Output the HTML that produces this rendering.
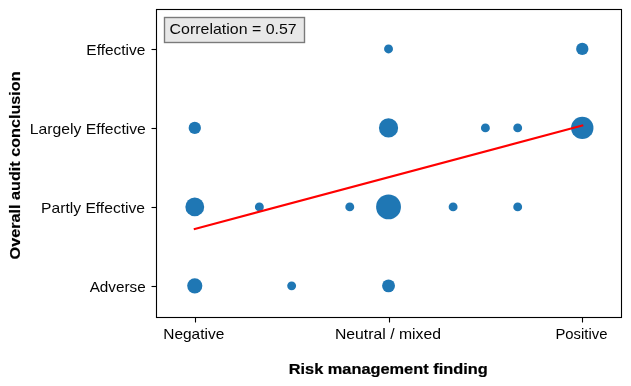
<!DOCTYPE html>
<html><head><meta charset="utf-8"><title>Risk management finding vs overall audit conclusion</title>
<style>
html,body{margin:0;padding:0;background:#ffffff;}
body{width:631px;height:386px;overflow:hidden;}
svg{display:block;position:absolute;left:0;top:0;will-change:transform;}
text{font-family:"Liberation Sans", sans-serif;}
</style></head>
<body>
<svg width="631" height="386" viewBox="0 0 631 386">
<rect x="0" y="0" width="631" height="386" fill="#ffffff"/>
<g fill="#1f77b4">
<circle cx="388.53" cy="48.93" r="4.45"/>
<circle cx="582.28" cy="48.93" r="6.17"/>
<circle cx="194.78" cy="127.91" r="6.17"/>
<circle cx="388.53" cy="127.91" r="9.62"/>
<circle cx="485.40" cy="127.91" r="4.45"/>
<circle cx="517.69" cy="127.91" r="4.45"/>
<circle cx="582.28" cy="127.91" r="11.18"/>
<circle cx="194.78" cy="206.88" r="9.43"/>
<circle cx="259.36" cy="206.88" r="4.45"/>
<circle cx="349.78" cy="206.88" r="4.45"/>
<circle cx="388.53" cy="206.88" r="12.43"/>
<circle cx="453.11" cy="206.88" r="4.45"/>
<circle cx="517.69" cy="206.88" r="4.45"/>
<circle cx="194.78" cy="285.85" r="7.58"/>
<circle cx="291.65" cy="285.85" r="4.45"/>
<circle cx="388.53" cy="285.85" r="6.47"/>
</g>
<line x1="194.78" y1="228.99" x2="582.28" y2="125.54" stroke="#ff0000" stroke-width="2.083" stroke-linecap="square"/>
<rect x="156.5" y="9.5" width="465" height="308" fill="none" stroke="#000000" stroke-width="1.111"/>
<g stroke="#000000" stroke-width="1.111">
<line x1="151.5" y1="49.5" x2="156.5" y2="49.5"/>
<line x1="151.5" y1="128.5" x2="156.5" y2="128.5"/>
<line x1="151.5" y1="207.5" x2="156.5" y2="207.5"/>
<line x1="151.5" y1="286.5" x2="156.5" y2="286.5"/>
<line x1="195.5" y1="317.5" x2="195.5" y2="322.5"/>
<line x1="389.5" y1="317.5" x2="389.5" y2="322.5"/>
<line x1="582.5" y1="317.5" x2="582.5" y2="322.5"/>
</g>
<rect x="164.50" y="17.50" width="140.00" height="25.00" fill="#e8e8e8" stroke="#7a7a7a" stroke-width="1.389"/>
<text x="193.75" y="338.73" font-size="14.60" text-anchor="middle" textLength="61.00" lengthAdjust="spacingAndGlyphs" fill="#000000">Negative</text>
<text x="387.94" y="338.77" font-size="14.60" text-anchor="middle" textLength="106.00" lengthAdjust="spacingAndGlyphs" fill="#000000">Neutral / mixed</text>
<text x="581.46" y="339.46" font-size="14.60" text-anchor="middle" textLength="52.00" lengthAdjust="spacingAndGlyphs" fill="#000000">Positive</text>
<text x="145.65" y="292.43" font-size="14.60" text-anchor="end" textLength="56.00" lengthAdjust="spacingAndGlyphs" fill="#030303">Adverse</text>
<text x="145.07" y="212.61" font-size="14.60" text-anchor="end" textLength="104.00" lengthAdjust="spacingAndGlyphs" fill="#080808">Partly Effective</text>
<text x="145.89" y="133.77" font-size="14.60" text-anchor="end" textLength="116.00" lengthAdjust="spacingAndGlyphs" fill="#090909">Largely Effective</text>
<text x="145.38" y="54.64" font-size="14.60" text-anchor="end" textLength="59.00" lengthAdjust="spacingAndGlyphs" fill="#050505">Effective</text>
<text x="388.19" y="373.82" font-size="14.20" text-anchor="middle" font-weight="bold" textLength="199.00" lengthAdjust="spacingAndGlyphs" stroke="#000" stroke-width="0.19">Risk management finding</text>
<text x="20.49" y="165.41" font-size="14.20" text-anchor="middle" font-weight="bold" textLength="188.00" lengthAdjust="spacingAndGlyphs" stroke="#000" stroke-width="0.13" transform="rotate(-90 20.49 165.41)">Overall audit conclusion</text>
<text x="169.64" y="33.99" font-size="14.60" textLength="127.00" lengthAdjust="spacingAndGlyphs" fill="#090909">Correlation = 0.57</text>
</svg>
</body></html>
